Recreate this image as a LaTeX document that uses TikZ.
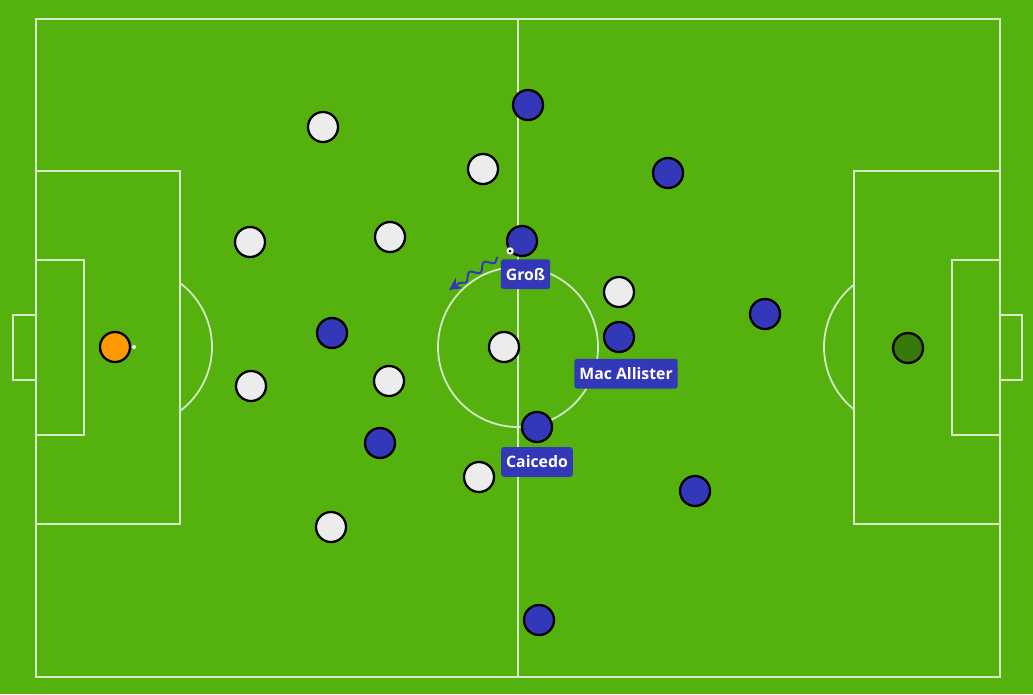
\documentclass[tikz,border=0pt]{standalone}
\usepackage{fontspec}
\setmainfont{Open Sans}
\usetikzlibrary{positioning, calc, arrows.meta, decorations.pathmorphing}
\definecolor{pitchgreen}{RGB}{84, 177, 14}
\definecolor{teamblue}{RGB}{51, 56, 184}
\definecolor{teamwhite}{RGB}{236, 236, 236}
\definecolor{keeperorange}{RGB}{255, 153, 0}
\definecolor{keepergreen}{RGB}{55, 120, 10}
\definecolor{linewhite}{RGB}{215, 235, 200}
\tikzset{
    pitchline/.style={
        draw=linewhite, line width=1pt
    },
    player/.style={
        circle, draw=black, line width=1.3pt, minimum size=0.6cm, inner sep=0pt
    },
    whiteplayer/.style={
        player, fill=teamwhite
    },
    blueplayer/.style={
        player, fill=teamblue
    },
    namebox/.style={
        fill=teamblue, text=white, font=\fontsize{9}{10}\selectfont\bfseries,
        rounded corners=1.5pt, inner xsep=2.8pt, inner ysep=5pt
    }
}

\begin{document}
\begin{tikzpicture}[x=0.02cm, y=-0.02cm]

    % --- PITCH ---
    \fill[pitchgreen] (0,0) rectangle (1033,694);
    \useasboundingbox (0,0) rectangle (1033,694);
    \draw[pitchline] (36,19) rectangle (1000,677);
    \draw[pitchline] (518,19) -- (518,677);
    \draw[pitchline] (518,347) circle[radius=80];
    % left side
    \draw[pitchline] (36,171) rectangle (180,524);
    \draw[pitchline] (36,260) rectangle (84,435);
    \draw[pitchline] (13,315) rectangle (36,380);
    \begin{scope}
        \clip (180,0) rectangle (300,694);
        \draw[pitchline] (132,347) circle[radius=80];
    \end{scope}
    % right side
    \draw[pitchline] (854,171) rectangle (1000,524);
    \draw[pitchline] (952,260) rectangle (1000,435);
    \draw[pitchline] (1000,315) rectangle (1022,380);
    \begin{scope}
        \clip (750,0) rectangle (854,694);
        \draw[pitchline] (904,347) circle[radius=80];
    \end{scope}

    % --- KEEPERS ---
    \node[player, fill=keeperorange] (gkL) at (115,347) {};
    \node[player, fill=keepergreen] (gkR) at (908,348) {};
    \fill[white] ($(gkL.east)+(3,0)$) circle[radius=2];

    % --- WHITE TEAM ---
    \node[whiteplayer] (w1) at (323,127) {};
    \node[whiteplayer] (w2) at (483,169) {};
    \node[whiteplayer] (w3) at (250,242) {};
    \node[whiteplayer] (w4) at (390,237) {};
    \node[whiteplayer] (w5) at (251,386) {};
    \node[whiteplayer] (w6) at (389,381) {};
    \node[whiteplayer] (w7) at (504,347) {};
    \node[whiteplayer] (w8) at (619,292) {};
    \node[whiteplayer] (w9) at (479,477) {};
    \node[whiteplayer] (w10) at (331,527) {};

    % --- BLUE TEAM ---
    \node[blueplayer] (b1) at (528,105) {};
    \node[blueplayer] (b2) at (668,173) {};
    \node[blueplayer] (gross) at (522,241) {};
    \node[blueplayer] (b4) at (332,333) {};
    \node[blueplayer] (macallister) at (619,337) {};
    \node[blueplayer] (b6) at (765,314) {};
    \node[blueplayer] (b7) at (380,443) {};
    \node[blueplayer] (caicedo) at (537,427) {};
    \node[blueplayer] (b9) at (695,491) {};
    \node[blueplayer] (b10) at (539,620) {};

    % --- BALL ---
    \node[circle, fill=white, draw=black!60, line width=0.3pt, minimum size=0.16cm, inner sep=0pt] (ball) at (510,251) {};
    \fill[black] (ball.center) circle[radius=1.5];

    % --- NAMES ---
    \node[namebox, below=1pt of gross, xshift=2pt] (lblGross) {Groß};
    \node[namebox, below=3pt of macallister, xshift=4pt] (lblMac) {Mac Allister};
    \node[namebox, below=2pt of caicedo] (lblCaicedo) {Caicedo};

    % dribble
    \coordinate (dribbleEnd) at (449,290);
    \draw[teamblue, line width=1.1pt, -{Stealth[length=7pt, width=7pt]},
        decorate, decoration={snake, amplitude=2pt, segment length=10pt, post length=5pt}]
        ($(lblGross.north west)+(-3,-2)$) -- (dribbleEnd);

\end{tikzpicture}
\end{document}
